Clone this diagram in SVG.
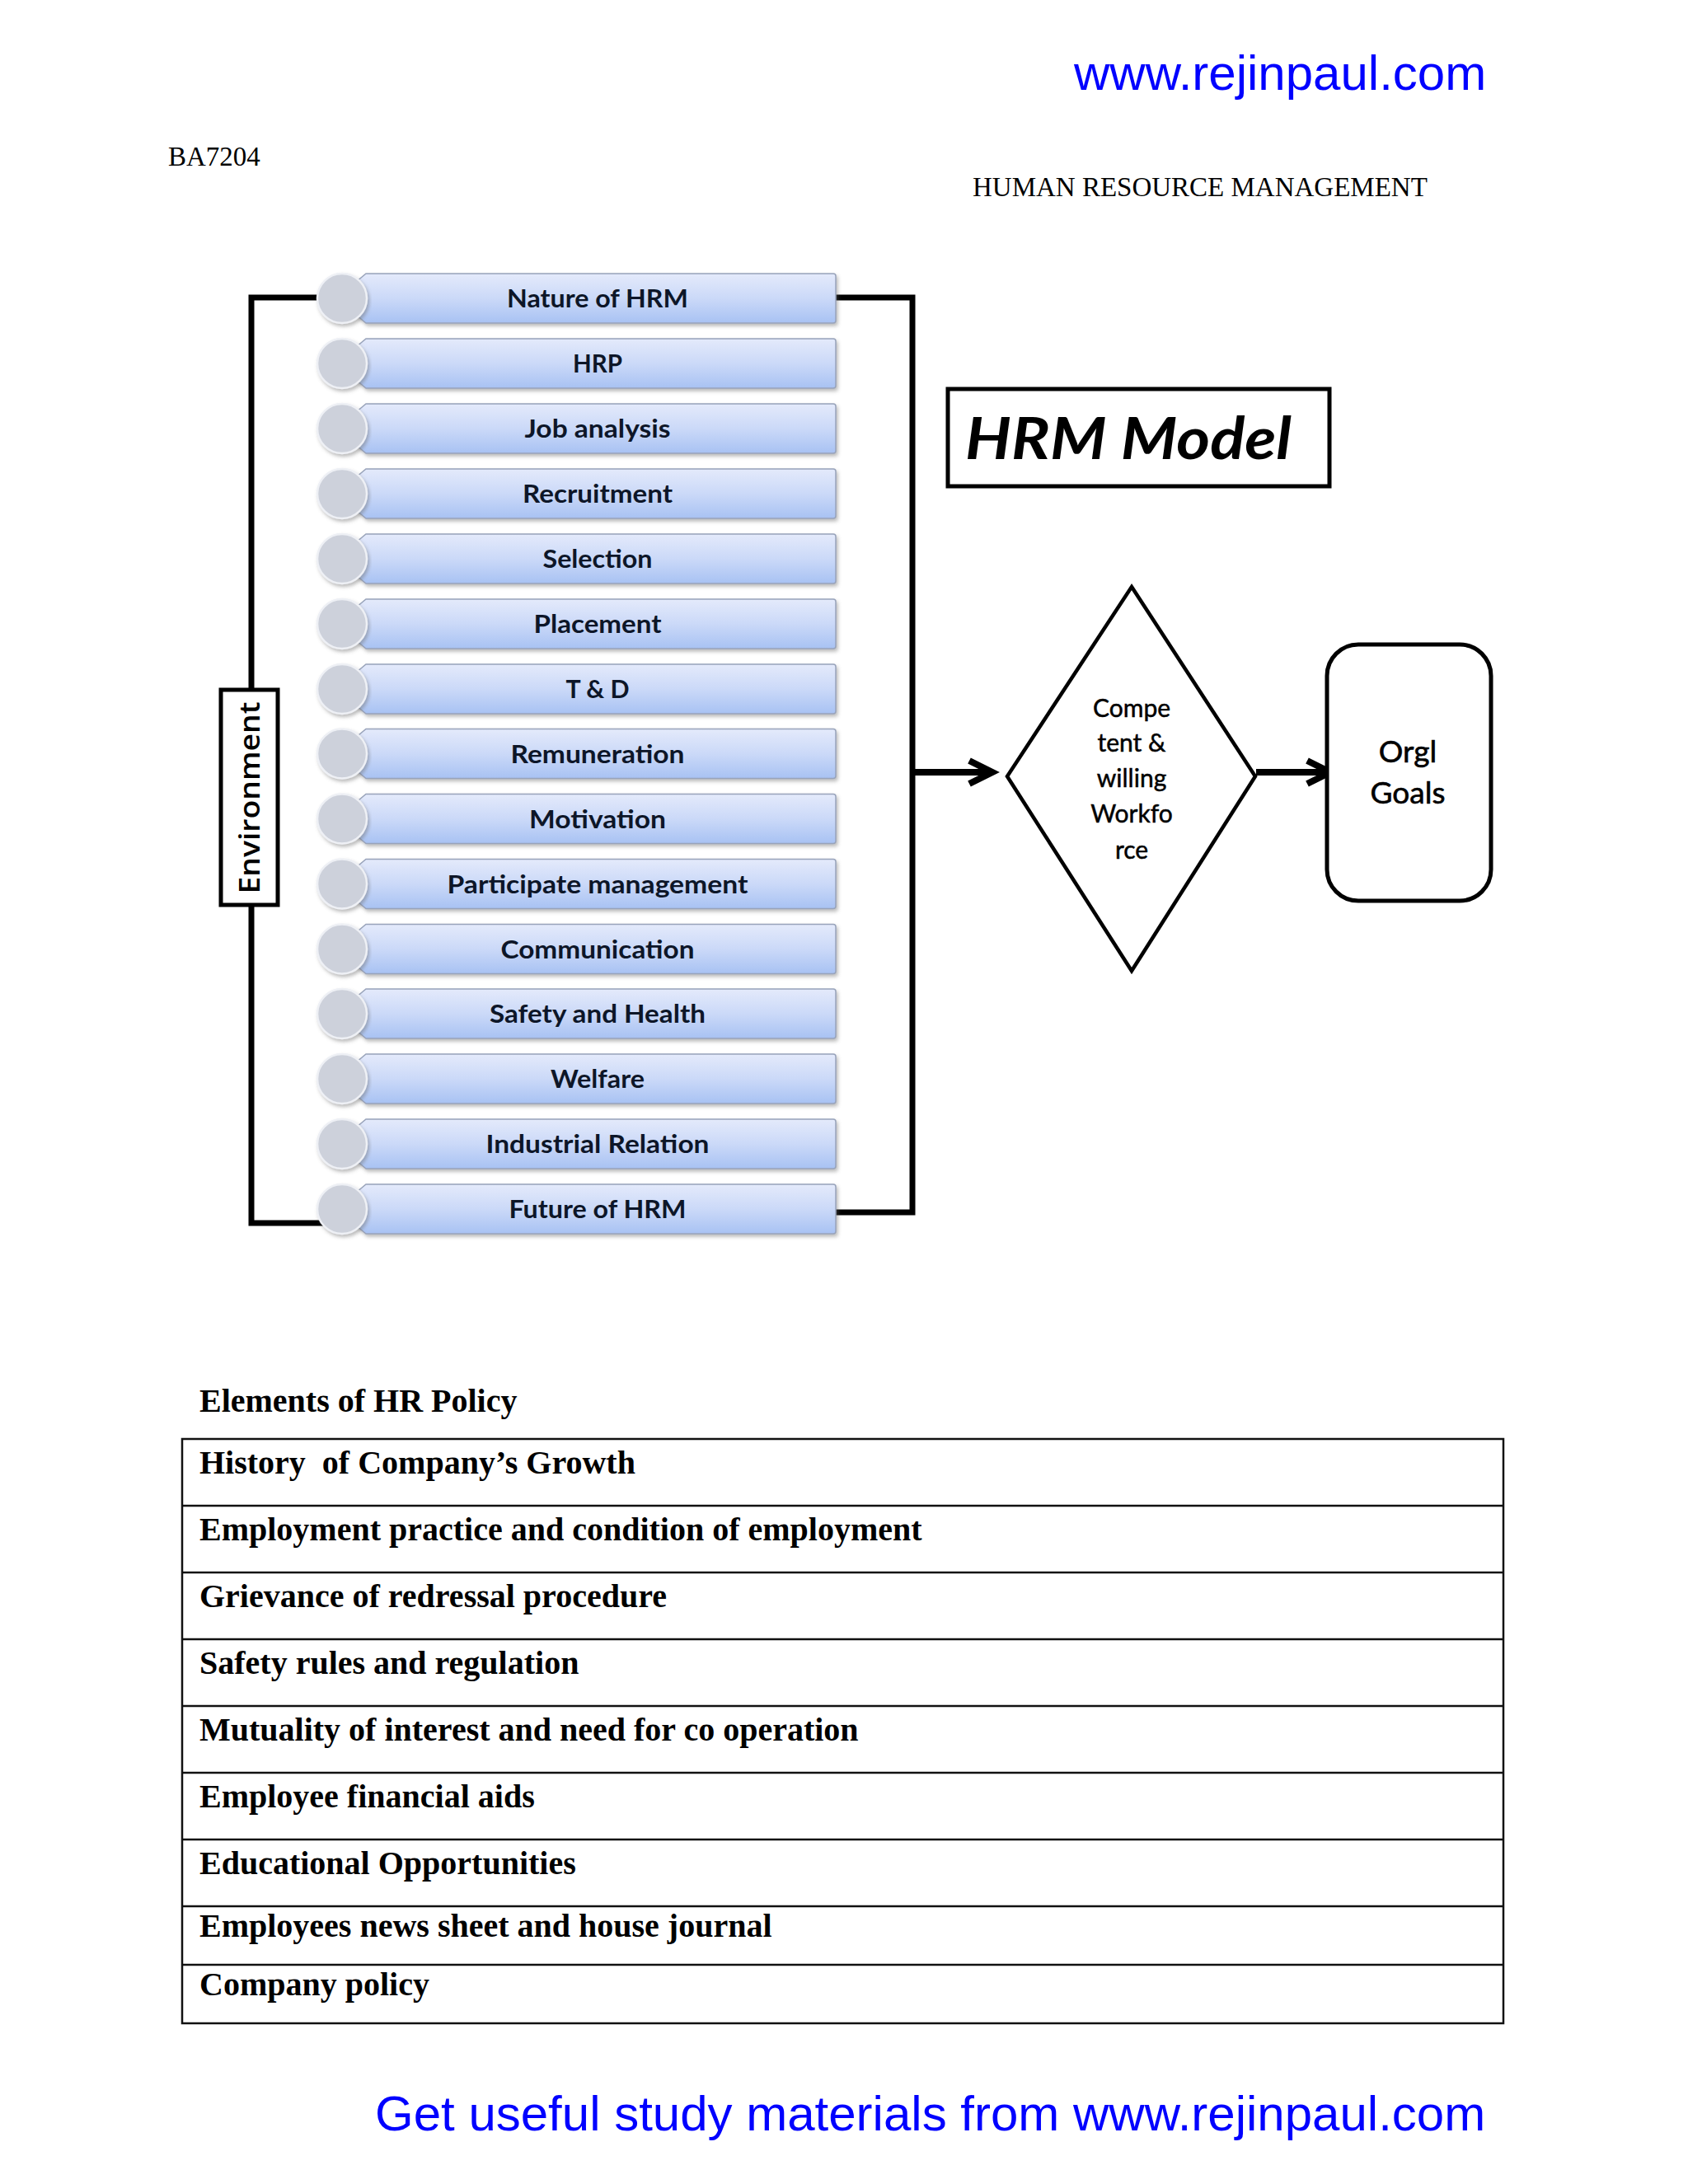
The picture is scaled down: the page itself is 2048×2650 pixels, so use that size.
<svg xmlns="http://www.w3.org/2000/svg" width="2048" height="2650" viewBox="0 0 2048 2650">
<style>
.url{font-family:"Liberation Sans",Arial,sans-serif;font-size:60px;fill:#0000ff}
.hdr{font-family:"Liberation Serif","Times New Roman",serif;font-size:33px;fill:#000}
.lbl{font-family:Lato,"Liberation Sans",sans-serif;font-weight:bold;font-size:30px;fill:#0d1628;text-anchor:middle}
.dtx{font-family:Lato,"Liberation Sans",sans-serif;font-size:30px;fill:#000;text-anchor:middle;stroke:#000;stroke-width:0.5}
.gtx{font-family:Lato,"Liberation Sans",sans-serif;font-size:37px;fill:#000;text-anchor:middle;stroke:#000;stroke-width:0.6}
.env{font-family:"Open Sans","Liberation Sans",sans-serif;font-weight:600;font-size:35px;fill:#000;text-anchor:middle}
.ttl{font-family:Lato,"Liberation Sans",sans-serif;font-weight:bold;font-style:italic;font-size:70px;fill:#000}
.tbl{font-family:"Liberation Serif","Times New Roman",serif;font-weight:bold;font-size:40px;fill:#000;white-space:pre}
.box{fill:#fff;stroke:#000;stroke-width:5}
.conn{fill:none;stroke:#000;stroke-width:7;stroke-linejoin:miter}
.arr{fill:none;stroke:#000;stroke-width:8}
.tline{stroke:#111;stroke-width:2.5}
.bar{fill:url(#barGrad);stroke:#98a3ba;stroke-width:1.5}
.knob{fill:#cdd1db;stroke:#eef0f5;stroke-width:2.5}
</style>
<defs>
<linearGradient id="barGrad" x1="0" y1="0" x2="0" y2="1">
<stop offset="0" stop-color="#e4eafb"/>
<stop offset="0.5" stop-color="#cbd9f8"/>
<stop offset="1" stop-color="#a8c2f3"/>
</linearGradient>
<filter id="shadow" x="-10%" y="-30%" width="120%" height="170%">
<feDropShadow dx="2" dy="3" stdDeviation="2" flood-color="#6b6b6b" flood-opacity="0.45"/>
</filter>
<g id="barShape">
<path class="bar" d="M432 -20 L444 -30 L1011 -30 Q1014 -30 1014 -27 L1014 27 Q1014 30 1011 30 L444 30 L432 20 Z" filter="url(#shadow)"/>
<circle class="knob" cx="415" cy="0" r="30" filter="url(#shadow)"/>
</g>
<marker id="chev" markerUnits="userSpaceOnUse" viewBox="-40 -22 48 44" markerWidth="48" markerHeight="44" refX="0" refY="0" orient="auto" overflow="visible">
<path d="M-28 -14 L0 0 L-28 14" fill="none" stroke="#000" stroke-width="8"/>
</marker>
</defs>
<rect x="0" y="0" width="2048" height="2650" fill="#fff"/>

<g id="header">
<text class="url" x="1303" y="109">www.rejinpaul.com</text>
<text class="hdr" x="204" y="201">BA7204</text>
<text class="hdr" x="1180" y="238">HUMAN RESOURCE MANAGEMENT</text>
</g>

<g id="connectors">
<path class="conn" d="M405 361 H305 V1484 H405"/>
<path class="conn" d="M1008 361 H1107 V1471 H1008"/>
<line class="arr" x1="1107" y1="937" x2="1204" y2="937" marker-end="url(#chev)"/>
<line class="arr" x1="1524" y1="937" x2="1614" y2="937" marker-end="url(#chev)"/>
</g>

<g id="environment">
<rect class="box" x="268" y="837" width="69" height="261"/>
<text class="env" transform="translate(315 968) rotate(-90)" textLength="233" lengthAdjust="spacingAndGlyphs">Environment</text>
</g>

<g id="n-nature" transform="translate(0 362)"><use href="#barShape"/><text class="lbl" x="725" y="11" textLength="220" lengthAdjust="spacingAndGlyphs">Nature of HRM</text></g>
<g id="n-hrp" transform="translate(0 441)"><use href="#barShape"/><text class="lbl" x="725" y="11" textLength="60" lengthAdjust="spacingAndGlyphs">HRP</text></g>
<g id="n-job" transform="translate(0 520)"><use href="#barShape"/><text class="lbl" x="725" y="11" textLength="177" lengthAdjust="spacingAndGlyphs">Job analysis</text></g>
<g id="n-recruitment" transform="translate(0 599)"><use href="#barShape"/><text class="lbl" x="725" y="11" textLength="182" lengthAdjust="spacingAndGlyphs">Recruitment</text></g>
<g id="n-selection" transform="translate(0 678)"><use href="#barShape"/><text class="lbl" x="725" y="11" textLength="133" lengthAdjust="spacingAndGlyphs">Selection</text></g>
<g id="n-placement" transform="translate(0 757)"><use href="#barShape"/><text class="lbl" x="725" y="11" textLength="155" lengthAdjust="spacingAndGlyphs">Placement</text></g>
<g id="n-td" transform="translate(0 836)"><use href="#barShape"/><text class="lbl" x="725" y="11" textLength="77" lengthAdjust="spacingAndGlyphs">T &amp; D</text></g>
<g id="n-remuneration" transform="translate(0 914.5)"><use href="#barShape"/><text class="lbl" x="725" y="11" textLength="211" lengthAdjust="spacingAndGlyphs">Remuneration</text></g>
<g id="n-motivation" transform="translate(0 993.5)"><use href="#barShape"/><text class="lbl" x="725" y="11" textLength="166" lengthAdjust="spacingAndGlyphs">Motivation</text></g>
<g id="n-participate" transform="translate(0 1072.5)"><use href="#barShape"/><text class="lbl" x="725" y="11" textLength="365" lengthAdjust="spacingAndGlyphs">Participate management</text></g>
<g id="n-communication" transform="translate(0 1151.5)"><use href="#barShape"/><text class="lbl" x="725" y="11" textLength="235" lengthAdjust="spacingAndGlyphs">Communication</text></g>
<g id="n-safety" transform="translate(0 1230)"><use href="#barShape"/><text class="lbl" x="725" y="11" textLength="262" lengthAdjust="spacingAndGlyphs">Safety and Health</text></g>
<g id="n-welfare" transform="translate(0 1309)"><use href="#barShape"/><text class="lbl" x="725" y="11" textLength="114" lengthAdjust="spacingAndGlyphs">Welfare</text></g>
<g id="n-industrial" transform="translate(0 1388)"><use href="#barShape"/><text class="lbl" x="725" y="11" textLength="271" lengthAdjust="spacingAndGlyphs">Industrial Relation</text></g>
<g id="n-future" transform="translate(0 1467)"><use href="#barShape"/><text class="lbl" x="725" y="11" textLength="215" lengthAdjust="spacingAndGlyphs">Future of HRM</text></g>

<g id="hrm-model">
<rect class="box" x="1150" y="472" width="463" height="118"/>
<text class="ttl" x="1171" y="557" textLength="396" lengthAdjust="spacingAndGlyphs">HRM Model</text>
</g>

<g id="workforce">
<polygon class="box" style="stroke-width:4.5" points="1373,712 1523,942 1373,1178 1222,942"/>
<text class="dtx" x="1373" y="870">Compe</text>
<text class="dtx" x="1373" y="912">tent &amp;</text>
<text class="dtx" x="1373" y="955">willing</text>
<text class="dtx" x="1373" y="998">Workfo</text>
<text class="dtx" x="1373" y="1042">rce</text>
</g>

<g id="goals">
<rect class="box" x="1610" y="782" width="199" height="311" rx="38" ry="38"/>
<text class="gtx" x="1708" y="925">Orgl</text>
<text class="gtx" x="1708" y="975">Goals</text>
</g>

<g id="policy-table">
<text class="tbl" x="242" y="1713">Elements of HR Policy</text>
<rect x="221" y="1746" width="1603" height="709" fill="none" stroke="#111" stroke-width="2.5"/>
<line class="tline" x1="221" y1="1827" x2="1824" y2="1827"/>
<line class="tline" x1="221" y1="1908" x2="1824" y2="1908"/>
<line class="tline" x1="221" y1="1989" x2="1824" y2="1989"/>
<line class="tline" x1="221" y1="2070" x2="1824" y2="2070"/>
<line class="tline" x1="221" y1="2151" x2="1824" y2="2151"/>
<line class="tline" x1="221" y1="2232" x2="1824" y2="2232"/>
<line class="tline" x1="221" y1="2313" x2="1824" y2="2313"/>
<line class="tline" x1="221" y1="2384" x2="1824" y2="2384"/>
<text class="tbl" x="242" y="1788">History  of Company’s Growth</text>
<text class="tbl" x="242" y="1869">Employment practice and condition of employment</text>
<text class="tbl" x="242" y="1950">Grievance of redressal procedure</text>
<text class="tbl" x="242" y="2031">Safety rules and regulation</text>
<text class="tbl" x="242" y="2112">Mutuality of interest and need for co operation</text>
<text class="tbl" x="242" y="2193">Employee financial aids</text>
<text class="tbl" x="242" y="2274">Educational Opportunities</text>
<text class="tbl" x="242" y="2350">Employees news sheet and house journal</text>
<text class="tbl" x="242" y="2421">Company policy</text>
</g>

<g id="footer">
<text class="url" x="455" y="2585">Get useful study materials from www.rejinpaul.com</text>
</g>
</svg>
